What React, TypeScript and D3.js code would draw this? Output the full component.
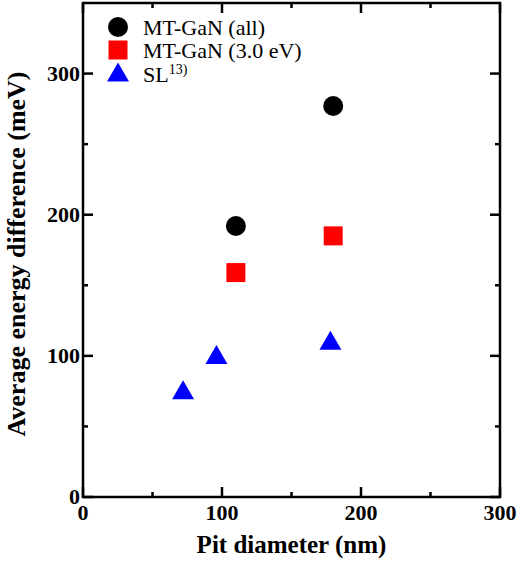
import React from 'react';
import * as d3 from 'd3';

// Data
const circleX = [110, 180];
const circleY = [192, 277];
const squareX = [110, 180];
const squareY = [159, 185];
const triangleX = [72, 96, 178];
const triangleY = [76, 101, 111];

const xTicks = [0, 100, 200, 300];
const xMinor = [50, 150, 250];
const yTicks = [0, 100, 200, 300];
const yMinor = [50, 150, 250];

const legendLabels = ['MT-GaN (all)', 'MT-GaN (3.0 eV)', 'SL'];

const W = 520;
const H = 565;
const margin = { left: 83, right: 20, top: 3, bottom: 68 };
const FONT = '"Liberation Serif", "Times New Roman", serif';

const x = d3.scaleLinear().domain([0, 300]).range([margin.left, W - margin.right]);
const y = d3.scaleLinear().domain([0, 350]).range([H - margin.bottom, margin.top]);

const triPath = (cx: number, cy: number, w = 22, h = 19) =>
  `M${cx - w / 2},${cy + h / 2}L${cx + w / 2},${cy + h / 2}L${cx},${cy - h / 2}Z`;

const Circle = ({ cx, cy }: { cx: number; cy: number }) => (
  <circle cx={cx} cy={cy} r={10} fill="#000" />
);
const Square = ({ cx, cy }: { cx: number; cy: number }) => (
  <rect x={cx - 9.5} y={cy - 9.5} width={19} height={19} fill="#ff0000" />
);
const Triangle = ({ cx, cy }: { cx: number; cy: number }) => (
  <path d={triPath(cx, cy)} fill="#0000ff" />
);

export default function App() {
  const [x0, x1] = x.range();
  const [y0, y1] = y.range();
  const major = 10;
  const minor = 5;

  return (
    <div style={{ position: 'absolute', left: 0, top: 0 }}>
      <svg width={W} height={H} style={{ display: 'block', background: '#fff' }} fontFamily={FONT}>
        {/* frame */}
        <rect x={x0} y={y1} width={x1 - x0} height={y0 - y1} fill="none" stroke="#000" strokeWidth={2.5} />

        {/* ticks on all four sides, pointing inward */}
        <g stroke="#000" strokeWidth={2.5}>
          {xTicks.map(t => (
            <g key={'xt' + t}>
              <line x1={x(t)} x2={x(t)} y1={y0} y2={y0 - major} />
              <line x1={x(t)} x2={x(t)} y1={y1} y2={y1 + major} />
            </g>
          ))}
          {xMinor.map(t => (
            <g key={'xm' + t}>
              <line x1={x(t)} x2={x(t)} y1={y0} y2={y0 - minor} />
              <line x1={x(t)} x2={x(t)} y1={y1} y2={y1 + minor} />
            </g>
          ))}
          {yTicks.map(t => (
            <g key={'yt' + t}>
              <line x1={x0} x2={x0 + major} y1={y(t)} y2={y(t)} />
              <line x1={x1} x2={x1 - major} y1={y(t)} y2={y(t)} />
            </g>
          ))}
          {yMinor.map(t => (
            <g key={'ym' + t}>
              <line x1={x0} x2={x0 + minor} y1={y(t)} y2={y(t)} />
              <line x1={x1} x2={x1 - minor} y1={y(t)} y2={y(t)} />
            </g>
          ))}
        </g>

        {/* tick labels */}
        <g fontSize={22} fontWeight="bold" fill="#000">
          {xTicks.map(t => (
            <text key={'xl' + t} x={x(t)} y={y0 + 23} textAnchor="middle">
              {t}
            </text>
          ))}
          {yTicks.map(t => (
            <text key={'yl' + t} x={x0 - 3} y={y(t) + 7} textAnchor="end">
              {t}
            </text>
          ))}
        </g>

        {/* axis titles */}
        <text x={(x0 + x1) / 2} y={553} textAnchor="middle" fontSize={25} fontWeight="bold">
          Pit diameter (nm)
        </text>
        <text
          transform={`translate(25,${(65 + 443) / 2}) rotate(-90)`}
          textAnchor="middle"
          fontSize={26}
          fontWeight="bold"
        >
          Average energy difference (meV)
        </text>

        {/* data */}
        {circleX.map((d, i) => (
          <Circle key={'c' + i} cx={x(d)} cy={y(circleY[i])} />
        ))}
        {squareX.map((d, i) => (
          <Square key={'s' + i} cx={x(d)} cy={y(squareY[i])} />
        ))}
        {triangleX.map((d, i) => (
          <Triangle key={'t' + i} cx={x(d)} cy={y(triangleY[i])} />
        ))}

        {/* legend */}
        <g fontSize={22}>
          <Circle cx={118} cy={27} />
          <text x={143} y={35}>{legendLabels[0]}</text>
          <Square cx={118} cy={50} />
          <text x={143} y={58}>{legendLabels[1]}</text>
          <Triangle cx={118} cy={72} />
          <text x={143} y={82}>
            {legendLabels[2]}
            <tspan fontSize={14} dy={-8}>13)</tspan>
          </text>
        </g>
      </svg>
    </div>
  );
}
